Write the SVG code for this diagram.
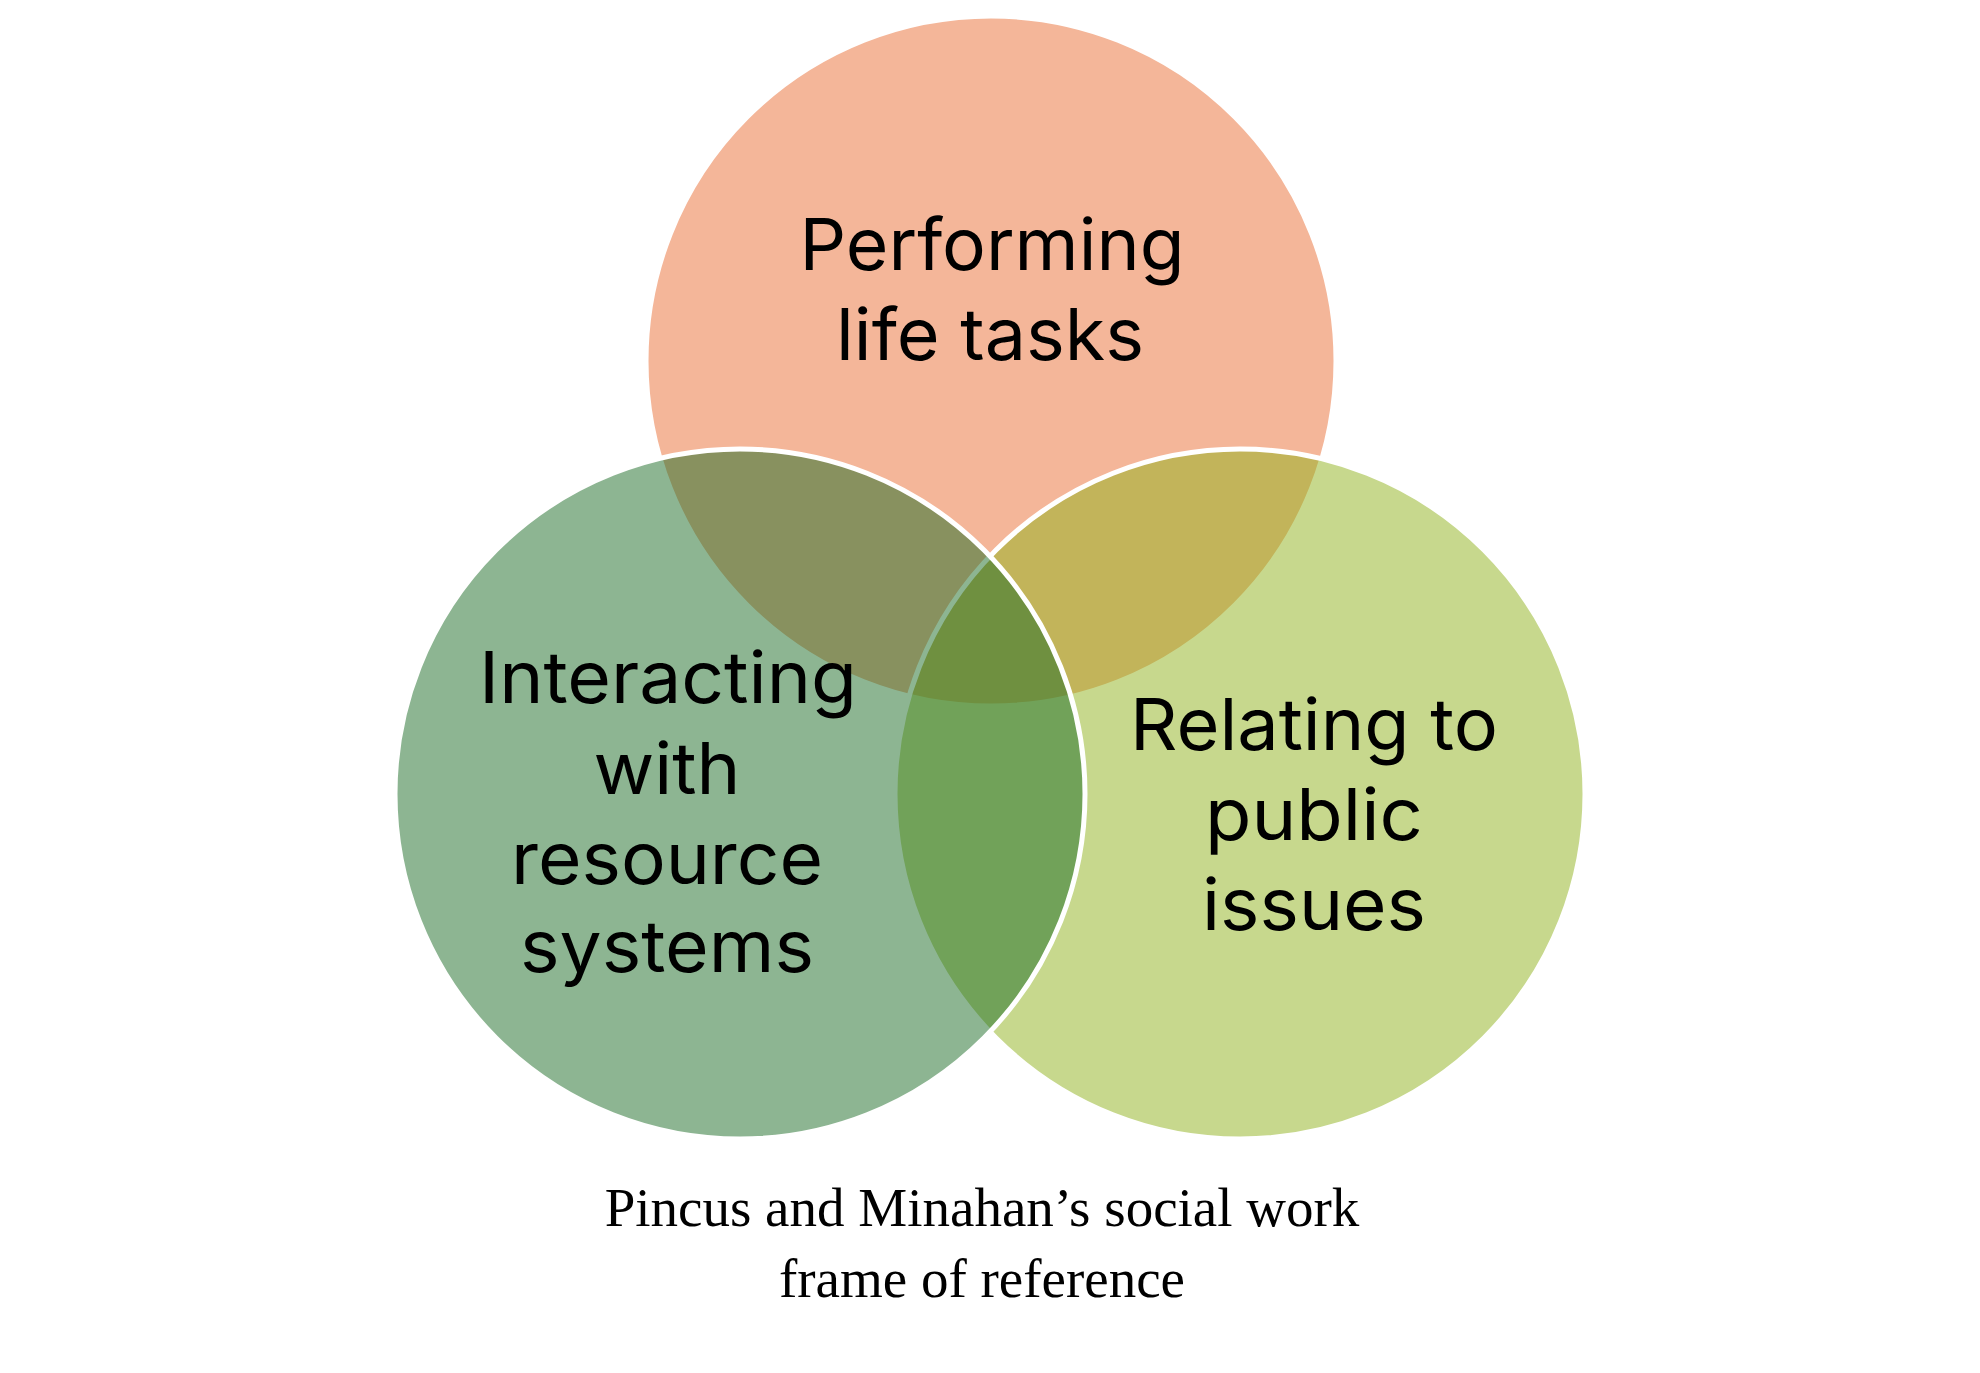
<svg xmlns="http://www.w3.org/2000/svg" width="1980" height="1373" viewBox="0 0 1980 1373">
<style>
.c{stroke:#FFFFFF;stroke-width:5}
.t{font-family:Inter,"Noto Sans",sans-serif;font-size:72px;fill:#000;text-anchor:middle}
.cap{font-family:"Liberation Serif","Times New Roman",serif;font-size:55px;fill:#000;text-anchor:middle}
</style>
<rect width="1980" height="1373" fill="#FFFFFF"/>
<g id="node-performing">
<circle class="c" cx="991" cy="361" r="345" fill="#F4B699"/>
<text class="t" x="992" y="270" textLength="385" lengthAdjust="spacingAndGlyphs">Performing</text>
<text class="t" x="990" y="360" textLength="308" lengthAdjust="spacingAndGlyphs">life tasks</text>
</g>
<g id="node-relating">
<circle class="c" cx="1240" cy="794" r="345" fill="#8FB11B" fill-opacity="0.5"/>
<text class="t" x="1314" y="750" textLength="368" lengthAdjust="spacingAndGlyphs">Relating to</text>
<text class="t" x="1314" y="840" textLength="218" lengthAdjust="spacingAndGlyphs">public</text>
<text class="t" x="1314" y="930" textLength="224" lengthAdjust="spacingAndGlyphs">issues</text>
</g>
<g id="node-interacting">
<circle class="c" cx="740" cy="794" r="345" fill="#1B6B25" fill-opacity="0.5"/>
<text class="t" x="668" y="703" textLength="378" lengthAdjust="spacingAndGlyphs">Interacting</text>
<text class="t" x="667" y="794" textLength="147" lengthAdjust="spacingAndGlyphs">with</text>
<text class="t" x="667" y="884" textLength="312" lengthAdjust="spacingAndGlyphs">resource</text>
<text class="t" x="667" y="972" textLength="294" lengthAdjust="spacingAndGlyphs">systems</text>
</g>
<g id="caption">
<text class="cap" x="982" y="1226">Pincus and Minahan’s social work</text>
<text class="cap" x="982" y="1297">frame of reference</text>
</g>
</svg>
